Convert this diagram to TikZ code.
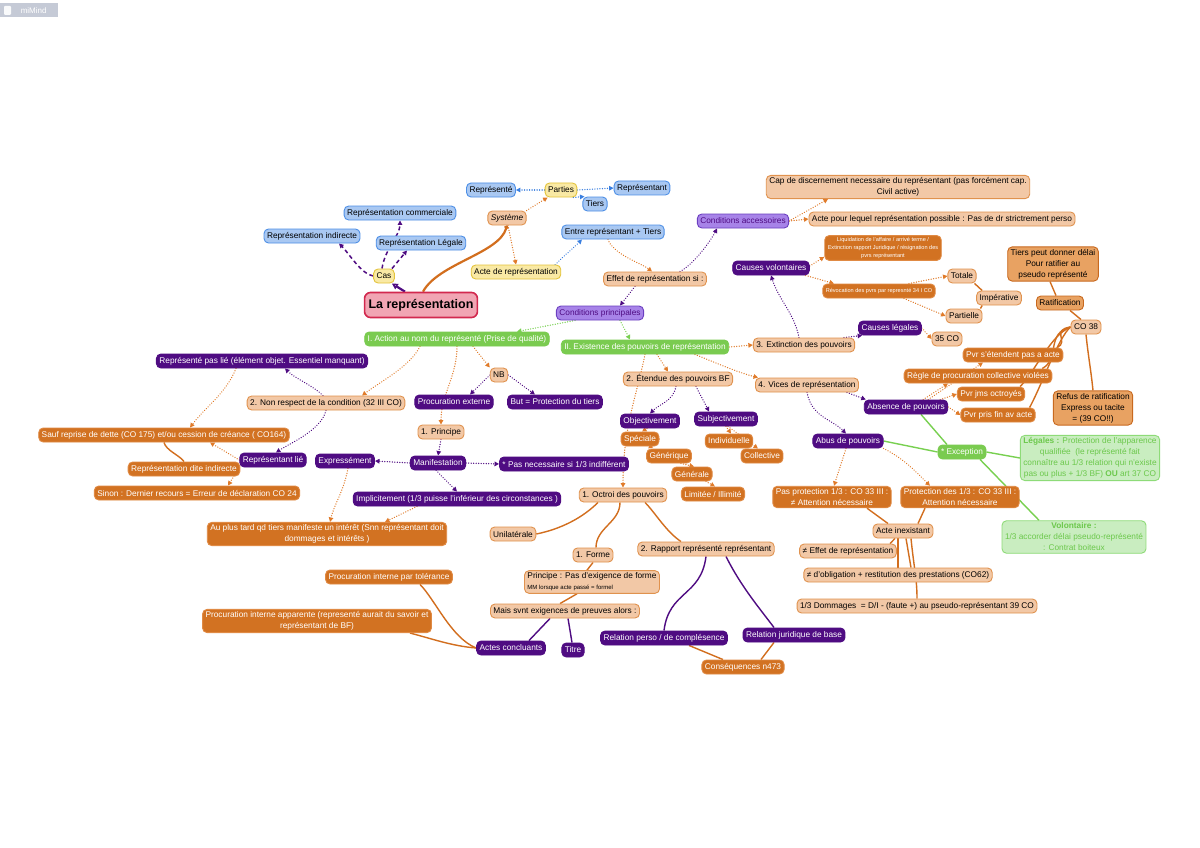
\documentclass[tikz,border=0pt]{standalone}
\usepackage{fontspec}
\setmainfont{Liberation Sans}
\usetikzlibrary{arrows.meta,backgrounds}
\definecolor{pinkF}{HTML}{F1A5B3}\definecolor{pinkD}{HTML}{D2284E}
\definecolor{bluF}{HTML}{A9C8F2}\definecolor{bluD}{HTML}{4D8FE6}
\definecolor{yelF}{HTML}{F9E9A4}\definecolor{yelD}{HTML}{E3C33B}
\definecolor{peaF}{HTML}{F2C8A6}\definecolor{peaD}{HTML}{E0924E}
\definecolor{dorF}{HTML}{D27222}\definecolor{dorD}{HTML}{E08A44}
\definecolor{purF}{HTML}{4F0C82}
\definecolor{lpuF}{HTML}{A783E8}\definecolor{lpuD}{HTML}{6B3FC0}
\definecolor{grnF}{HTML}{7ACB50}
\definecolor{lgrF}{HTML}{C9EDC0}\definecolor{lgrD}{HTML}{8EDB78}\definecolor{lgrT}{HTML}{6CC84C}
\definecolor{morF}{HTML}{E8A262}\definecolor{morD}{HTML}{C8691F}
\definecolor{oE}{HTML}{E07B2A}\definecolor{oS}{HTML}{D26E1E}
\definecolor{pE}{HTML}{4F0C82}\definecolor{bE}{HTML}{3A7FE0}\definecolor{gE}{HTML}{78D050}
\definecolor{wmC}{HTML}{C5CAD6}
\newcommand\fs{\fontsize{8.3}{11}\selectfont}
\newcommand\fss{\fontsize{5.6}{7.6}\selectfont}
\newcommand\fsx{\fontsize{6}{7}\selectfont}
\begin{document}
\begin{tikzpicture}[x=1pt,y=-1pt,
  box/.style={rounded corners=4.5pt, inner xsep=3pt, inner ysep=2.2pt, minimum height=14pt, line width=0.9pt, font=\fs, align=center},
  blu/.style={fill=bluF, draw=bluD},
  yel/.style={fill=yelF, draw=yelD},
  pea/.style={fill=peaF, draw=peaD},
  dor/.style={fill=dorF, draw=dorD, text=white},
  pur/.style={fill=purF, draw=purF, text=white},
  lpu/.style={fill=lpuF, draw=lpuD, text=purF},
  grn/.style={fill=grnF, draw=grnF, text=white},
  lgr/.style={fill=lgrF, draw=lgrD, text=lgrT},
  mor/.style={fill=morF, draw=morD},
  rootbox/.style={fill=pinkF, draw=pinkD, line width=1.6pt, rounded corners=6pt, font=\fontsize{12.5}{14}\selectfont\bfseries, minimum height=25pt, inner xsep=4pt},
  od/.style={draw=oE, line width=1.4pt, line cap=round, dash pattern=on 0.01pt off 2.5pt, -{Triangle[length=4.5pt,width=4.5pt,line cap=butt]}},
  pd/.style={od, draw=pE},
  bd/.style={od, draw=bE},
  gd/.style={od, draw=gE},
  os/.style={draw=oS, line width=1.4pt},
  ps/.style={draw=pE, line width=1.4pt},
  gs/.style={draw=gE, line width=1.4pt},
  pdash/.style={draw=pE, line width=1.5pt, dash pattern=on 4pt off 3pt, -{Triangle[length=4.5pt,width=4.5pt]}}
]
\useasboundingbox (0,0) rectangle (1200,848);
% watermark
\node[fill=wmC, text=white, font=\fontsize{8}{9}\selectfont, inner sep=1pt, minimum width=58pt, minimum height=14pt, anchor=north west] (wm) at (0,3) {\hspace{9pt}miMind};
\fill[white!90!wmC, rounded corners=1pt] (4,6) rectangle (11,15);

% nodes
\node[box,rootbox] (root) at (421,305) {La représentation};
\node[box,yel] (cas) at (384,276) {Cas};
\node[box,blu] (rind) at (312,236) {Représentation indirecte};
\node[box,blu] (rcom) at (400,213) {Représentation commerciale};
\node[box,blu] (rleg) at (421,243) {Représentation Légale};
\node[box,pea,font=\fs\itshape] (sys) at (507,218) {Système};
\node[box,blu] (rpte) at (491,190) {Représenté};
\node[box,yel] (part) at (561,190) {Parties};
\node[box,blu] (rpnt) at (642,188) {Représentant};
\node[box,blu] (tiers) at (595,204) {Tiers};
\node[box,blu] (entre) at (613,232) {Entre représentant + Tiers};
\node[box,yel] (acte) at (516,272) {Acte de représentation};
\node[box,pea] (effet) at (655,279) {Effet de représentation si :};
\node[box,lpu] (cacc) at (743,221) {Conditions accessoires};
\node[box,pea] (cap) at (898,187) {Cap de discernement necessaire du représentant (pas forcément cap.\\Civil active)};
\node[box,pea] (apl) at (942,219) {Acte pour lequel représentation possible : Pas de dr strictrement perso};
\node[box,dor,font=\fss] (liq) at (883,248) {Liquidation de l'affaire / arrivé terme /\\Extinction rapport Juridique / résignation des\\pvrs représentant};
\node[box,pur] (cvol) at (771,268) {Causes volontaires};
\node[box,dor,font=\fss] (revo) at (879,291) {Révocation des pvrs par represnté 34 I CO};
\node[box,pea] (tot) at (962,276) {Totale};
\node[box,pea] (imp) at (999,298) {Impérative};
\node[box,pea] (par) at (964,316) {Partielle};
\node[box,mor] (tpd) at (1053,264) {Tiers peut donner délai\\Pour ratifier au\\pseudo représenté};
\node[box,mor] (rat) at (1060,303) {Ratification};
\node[box,pea] (co38) at (1086,327) {CO 38};
\node[box,mor] (refus) at (1093,408) {Refus de ratification\\Express ou tacite\\= (39 CO!!)};
\node[box,lpu] (cpri) at (600,313) {Conditions principales};
\node[box,grn] (act) at (457,339) {I. Action au nom du représenté (Prise de qualité)};
\node[box,grn] (exi) at (645,347) {II. Existence des pouvoirs de représentation};
\node[box,pea] (ext) at (804,345) {3. Extinction des pouvoirs};
\node[box,pur] (cleg) at (890,328) {Causes légales};
\node[box,pea] (c35) at (947,339) {35 CO};
\node[box,dor] (pse) at (1013,355) {Pvr s'étendent pas a acte};
\node[box,dor] (reg) at (978,376) {Règle de procuration collective violées};
\node[box,dor] (pjo) at (991,394) {Pvr jms octroyés};
\node[box,dor] (ppf) at (998,415) {Pvr pris fin av acte};
\node[box,pea] (vic) at (807,385) {4. Vices de représentation};
\node[box,pur] (abs) at (906,407) {Absence de pouvoirs};
\node[box,pur] (abu) at (848,441) {Abus de pouvoirs};
\node[box,grn] (exc) at (962,452) {* Exception};
\node[box,lgr] (lega) at (1090,458) {{\bfseries Légales :} Protection de l'apparence\\qualifiée~ (le représenté fait\\connaître au 1/3 relation qui n'existe\\pas ou plus + 1/3 BF) {\bfseries OU} art 37 CO};
\node[box,lgr] (volo) at (1074,537) {{\bfseries Volontaire :}\\1/3 accorder délai pseudo-représenté\\: Contrat boiteux};
\node[box,dor] (pasp) at (832,497) {Pas protection 1/3 : CO 33 III :\\≠ Attention nécessaire};
\node[box,dor] (prot) at (960,497) {Protection des 1/3 : CO 33 III :\\Attention nécessaire};
\node[box,pea] (ainx) at (903,531) {Acte inexistant};
\node[box,pea] (neff) at (848,551) {≠ Effet de représentation};
\node[box,pea] (nobl) at (898,575) {≠ d'obligation + restitution des prestations (CO62)};
\node[box,pea] (dom) at (917,606) {1/3 Dommages~ = D/I - (faute +) au pseudo-représentant 39 CO};
\node[box,pur] (rpl) at (262,361) {Représenté pas lié (élément objet. Essentiel manquant)};
\node[box,pea] (nrc) at (326,403) {2. Non respect de la condition (32 III CO)};
\node[box,pea] (nb) at (499,375) {NB};
\node[box,pur] (pext) at (454,402) {Procuration externe};
\node[box,pur] (but) at (555,402) {But = Protection du tiers};
\node[box,pea] (prin) at (441,432) {1. Principe};
\node[box,dor] (sauf) at (164,435) {Sauf reprise de dette (CO 175) et/ou cession de créance ( CO164)};
\node[box,pur] (rlie) at (273,460) {Représentant lié};
\node[box,dor] (rdi) at (184,469) {Représentation dite indirecte};
\node[box,dor] (sinon) at (197,493) {Sinon : Dernier recours = Erreur de déclaration CO 24};
\node[box,pur] (expr) at (345,461) {Expressément};
\node[box,pur] (mani) at (438,463) {Manifestation};
\node[box,pur] (pasn) at (564,464) {* Pas necessaire si 1/3 indifférent};
\node[box,pur] (impl) at (457,499) {Implicitement (1/3 puisse l'inférieur des circonstances )};
\node[box,dor] (aupl) at (327,534) {Au plus tard qd tiers manifeste un intérêt (Snn représentant doit\\dommages et intérêts )};
\node[box,pea] (eten) at (678,379) {2. Étendue des pouvoirs BF};
\node[box,pur] (obj) at (650,421) {Objectivement};
\node[box,pur] (subj) at (726,419) {Subjectivement};
\node[box,dor] (spe) at (640,439) {Spéciale};
\node[box,dor] (gnq) at (669,456) {Générique};
\node[box,dor] (ind) at (729,441) {Individuelle};
\node[box,dor] (col) at (762,456) {Collective};
\node[box,dor] (gnl) at (692,474) {Générale};
\node[box,dor] (lim) at (713,494) {Limitée / Illimité};
\node[box,pea] (oct) at (623,495) {1. Octroi des pouvoirs};
\node[box,pea] (uni) at (513,534) {Unilatérale};
\node[box,pea] (for) at (593,555) {1. Forme};
\node[box,pea,align=left] (ppe) at (592,582) {Principe : Pas d'exigence de forme\\{\fsx MM lorsque acte passé = formel}};
\node[box,pea] (mais) at (565,611) {Mais svnt exigences de preuves alors :};
\node[box,pea] (rap) at (706,549) {2. Rapport représenté représentant};
\node[box,pur] (aco) at (511,648) {Actes concluants};
\node[box,pur] (titre) at (573,650) {Titre};
\node[box,pur] (rpc) at (664,638) {Relation perso / de complésence};
\node[box,pur] (rjb) at (794,635) {Relation juridique de base};
\node[box,dor] (cons) at (743,667) {Conséquences n473};
\node[box,dor] (pit) at (389,577) {Procuration interne par tolérance};
\node[box,dor] (pia) at (317,621) {Procuration interne apparente (representé aurait du savoir et\\représentant de BF)};

\begin{scope}[on background layer]
\fill[white] (0,0) rectangle (1200,848);
% root
\draw[pE, line width=2.2pt, -{Triangle[open,fill=white,length=6pt,width=6pt]}] ([xshift=-16pt]root.north) -- ([xshift=-3pt]cas.south east);
\draw[oS, line width=2.2pt, -{Circle[open,fill=white,length=4pt]}] ([xshift=2pt]root.north) .. controls +(15,-28) and +(-8,28) .. (sys.south);
\draw[pdash] (cas.west) .. controls +(-12,-2) and +(10,10) .. ([xshift=27pt]rind.south);
\draw[pdash] ([xshift=-2pt]cas.north) .. controls +(3,-20) and +(0,15) .. (rcom.south);
\draw[pdash] ([xshift=8pt]cas.north) -- ([xshift=-14pt]rleg.south);
\draw[od] (sys.north east) -- ([xshift=3pt]part.south west);
\draw[od] ([xshift=1pt]sys.south) -- (acte.north);
\draw[bd] (part.west) -- (rpte.east);
\draw[bd] (part.east) -- (rpnt.west);
\draw[bd] ([xshift=-4pt]part.south east) -- ([xshift=2pt]tiers.north west);
\draw[bd] ([xshift=-6pt]acte.north east) .. controls +(8,-8) and +(-8,8) .. ([xshift=-31pt]entre.south);
\draw[od] ([xshift=-5pt]entre.south) .. controls +(5,15) and +(-10,-8) .. ([xshift=-3pt]effet.north);
\draw[pd] ([xshift=25pt]effet.north) .. controls +(15,-8) and +(-5,10) .. ([xshift=-26pt]cacc.south);
\draw[pd] ([xshift=-20pt]effet.south) -- ([xshift=20pt]cpri.north);
\draw[od] (cacc.east) -- ([xshift=-70pt]cap.south);
\draw[od] (cacc.east) -- (apl.west);
\draw[od] ([yshift=2pt]cvol.east) -- ([yshift=4pt]liq.south west);
\draw[od] ([xshift=-4pt]cvol.south east) -- ([xshift=-45pt]revo.north);
\draw[od] ([xshift=30pt]revo.north) -- (tot.west);
\draw[od] ([xshift=25pt]revo.south) -- (par.west);
\draw[os] ([xshift=-2pt]tot.south east) -- ([xshift=6pt]imp.north west);
\draw[os] ([xshift=6pt]imp.south west) -- ([xshift=-2pt]par.north east);
\draw[os] ([xshift=-3pt]tpd.south) -- ([xshift=-4pt]rat.north);
\draw[os] ([xshift=10pt]rat.south) -- ([xshift=-5pt]co38.north);
\draw[os] (co38.south) .. controls +(2,20) and +(-2,-20) .. (refus.north);
\draw[os] (co38.west) .. controls +(-20,3) and +(12,-6) .. ([xshift=-6pt]pse.north east);
\draw[os] (co38.west) .. controls +(-25,6) and +(18,-10) .. ([xshift=-10pt]reg.north east);
\draw[os] (co38.west) .. controls +(-20,8) and +(15,-15) .. ([xshift=-5pt]pjo.north east);
\draw[os] (co38.west) .. controls +(-12,10) and +(12,-22) .. ([xshift=-6pt]ppf.north east);
\draw[pd] ([xshift=-5pt]ext.north) .. controls +(-5,-25) and +(8,25) .. (cvol.south);
\draw[pd] ([xshift=40pt]ext.north) -- ([xshift=4pt]cleg.south west);
\draw[od] (cleg.east) -- (c35.west);
\draw[od] ([xshift=-20pt]abs.north east) -- ([xshift=-30pt]pse.south);
\draw[od] ([xshift=-25pt]abs.north east) -- ([xshift=-30pt]reg.south);
\draw[od] ([xshift=-8pt]abs.north east) -- (pjo.west);
\draw[od] (abs.east) -- (ppf.west);
\draw[od] (exi.east) -- (ext.west);
\draw[od] ([xshift=12pt]exi.south) -- ([xshift=-10pt]eten.north);
\draw[od] ([xshift=50pt]exi.south) .. controls +(20,8) and +(-20,-5) .. ([xshift=3pt]vic.north west);
\draw[od] (exi.south) .. controls +(-8,40) and +(0,-60) .. (oct.north);
\draw[pd] ([xshift=-2pt]eten.south) .. controls +(-3,15) and +(10,-10) .. (obj.north);
\draw[pd] ([xshift=18pt]eten.south) .. controls +(5,10) and +(-5,-10) .. ([xshift=-17pt]subj.north);
\draw[od] ([xshift=-3pt]obj.south) -- ([xshift=2pt]spe.north);
\draw[od] (spe.east) -- ([xshift=2pt]gnq.north west);
\draw[od] ([xshift=12pt]gnq.south) -- ([xshift=2pt]gnl.north);
\draw[od] ([xshift=14pt]gnl.south) -- ([xshift=2pt]lim.north);
\draw[od] (subj.south) -- ([xshift=2pt]ind.north);
\draw[od] ([xshift=2pt]subj.south) -- ([xshift=-4pt]col.north);
\draw[pd] ([xshift=40pt]vic.south) -- ([xshift=2pt]abs.north west);
\draw[pd] (vic.south) .. controls +(5,25) and +(-15,-15) .. ([xshift=-2pt]abu.north);
\draw[od] ([xshift=-2pt]abu.south) -- ([xshift=2pt]pasp.north);
\draw[od] (abu.south east) .. controls +(20,10) and +(-15,-15) .. ([xshift=-30pt]prot.north);
\draw[gs] (abu.east) -- (exc.west);
\draw[gs] ([xshift=15pt]abs.south) -- ([xshift=-15pt]exc.north);
\draw[gs] (exc.east) -- (lega.west);
\draw[gs] ([xshift=18pt]exc.south) -- ([xshift=-35pt]volo.north);
\draw[os] ([xshift=35pt]pasp.south) -- ([xshift=-15pt]ainx.north);
\draw[os] ([xshift=-35pt]prot.south) -- ([xshift=15pt]ainx.north);
\draw[os] ([xshift=-8pt]ainx.south) -- ([xshift=42pt]neff.north);
\draw[os] ([xshift=-5pt]ainx.south) -- ([xshift=0pt]nobl.north);
\draw[os] ([xshift=3pt]ainx.south) -- ([xshift=13pt]nobl.north);
\draw[os] ([xshift=8pt]ainx.south) .. controls +(3,30) and +(0,-20) .. (dom.north);
\draw[od] ([xshift=-37pt]act.south) .. controls +(-10,20) and +(20,-15) .. ([xshift=36pt]nrc.north);
\draw[od] ([xshift=16pt]act.south) -- (nb.north west);
\draw[od] (act.south) .. controls +(0,30) and +(0,-30) .. (prin.north);
\draw[pd] (nb.west) -- ([xshift=16pt]pext.north);
\draw[pd] (nb.east) -- ([xshift=-20pt]but.north);
\draw[pd] (prin.south) -- (mani.north);
\draw[pd] (mani.west) -- (expr.east);
\draw[pd] (mani.east) -- (pasn.west);
\draw[pd] ([xshift=-2pt]mani.south) -- (impl.north);
\draw[od] ([xshift=3pt]expr.south) .. controls +(-5,25) and +(5,-20) .. ([xshift=3pt]aupl.north);
\draw[od] ([xshift=-40pt]impl.south) -- ([xshift=58pt]aupl.north);
\draw[pd] ([xshift=-3pt]nrc.north) .. controls +(-10,-10) and +(10,10) .. ([xshift=23pt]rpl.south);
\draw[pd] (nrc.south) .. controls +(-5,20) and +(15,-10) .. ([xshift=3pt]rlie.north);
\draw[od] ([xshift=-26pt]rpl.south) .. controls +(-10,25) and +(15,-20) .. ([xshift=26pt]sauf.north);
\draw[od] (rlie.west) -- ([xshift=46pt]sauf.south);
\draw[od] (rlie.south west) -- ([xshift=31pt]sinon.north);
\draw[os] (sauf.south) .. controls +(2,8) and +(-4,-6) .. (rdi.north);
\draw[os] ([xshift=-25pt]oct.south) .. controls +(-15,15) and +(25,-5) .. (uni.east);
\draw[os] ([xshift=-3pt]oct.south) .. controls +(0,20) and +(0,-20) .. ([xshift=3pt]for.north);
\draw[os] ([xshift=22pt]oct.south) .. controls +(10,10) and +(-15,-10) .. ([xshift=-25pt]rap.north);
\draw[os] (for.south) -- ([xshift=-5pt]ppe.north);
\draw[os] ([xshift=-15pt]ppe.south) -- ([xshift=-5pt]mais.north);
\draw[ps] ([xshift=-15pt]mais.south) -- ([xshift=18pt]aco.north);
\draw[ps] ([xshift=3pt]mais.south) -- ([xshift=-1pt]titre.north);
\draw[os] (aco.west) .. controls +(-25,-10) and +(15,15) .. ([xshift=31pt]pit.south);
\draw[os] (aco.west) .. controls +(-25,-2) and +(20,5) .. ([xshift=93pt]pia.south);
\draw[ps] (rap.south) .. controls +(-5,40) and +(5,-40) .. (rpc.north);
\draw[ps] ([xshift=20pt]rap.south) .. controls +(15,30) and +(-15,-20) .. ([xshift=-20pt]rjb.north);
\draw[os] ([xshift=25pt]rpc.south) -- ([xshift=-20pt]cons.north);
\draw[os] ([xshift=-20pt]rjb.south) -- ([xshift=18pt]cons.north);
\draw[gd] ([xshift=-25pt]cpri.south) -- ([xshift=60pt]act.north);
\draw[gd] ([xshift=20pt]cpri.south) -- ([xshift=-15pt]exi.north);
\end{scope}
\end{tikzpicture}
\end{document}
